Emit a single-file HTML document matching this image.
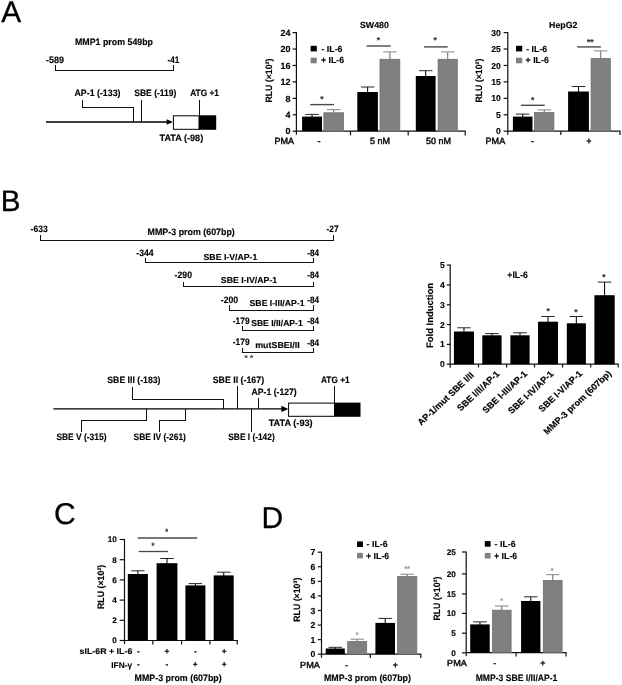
<!DOCTYPE html>
<html lang="en">
<head>
<meta charset="utf-8">
<title>Figure: IL-6 dependent MMP promoter activity</title>
<style>
html,body{margin:0;padding:0;background:#fff;}
body{width:622px;height:685px;overflow:hidden;}
svg{display:block;}
svg text{font-family:"Liberation Sans", Arial, Helvetica, sans-serif;}
</style>
</head>
<body>
<svg width="622" height="685" viewBox="0 0 622 685" text-rendering="geometricPrecision">
<rect x="0" y="0" width="622" height="685" fill="#ffffff"/>
<text x="1.3" y="22.3" font-size="29.8" fill="#000" stroke="#000" stroke-width="0.3">A</text>
<text x="0.8" y="210.9" font-size="29.6" fill="#000" stroke="#000" stroke-width="0.3">B</text>
<text x="53.9" y="524" font-size="30" fill="#000" stroke="#000" stroke-width="0.3">C</text>
<text x="261.4" y="527.7" font-size="30" fill="#000" stroke="#000" stroke-width="0.3">D</text>
<text x="75" y="44.5" font-size="9.3" font-weight="bold" stroke="#111" stroke-width="0.15" textLength="78" lengthAdjust="spacingAndGlyphs">MMP1 prom 549bp</text>
<text x="46" y="62.5" font-size="9.3" font-weight="bold" stroke="#111" stroke-width="0.15" textLength="18" lengthAdjust="spacingAndGlyphs">-589</text>
<text x="167.6" y="62.5" font-size="9.3" font-weight="bold" stroke="#111" stroke-width="0.15" textLength="11.8" lengthAdjust="spacingAndGlyphs">-41</text>
<polyline points="55.5,65.3 55.5,70 173.9,70 173.9,65.3" fill="none" stroke="#111" stroke-width="1" shape-rendering="crispEdges"/>
<text x="74.5" y="95.5" font-size="9.3" font-weight="bold" stroke="#111" stroke-width="0.15" textLength="46" lengthAdjust="spacingAndGlyphs">AP-1 (-133)</text>
<text x="134.3" y="95.5" font-size="9.3" font-weight="bold" stroke="#111" stroke-width="0.15" textLength="42.1" lengthAdjust="spacingAndGlyphs">SBE (-119)</text>
<text x="190.2" y="95.5" font-size="9.3" font-weight="bold" stroke="#111" stroke-width="0.15" textLength="28.8" lengthAdjust="spacingAndGlyphs">ATG +1</text>
<polyline points="82.5,99.5 82.5,107 133.5,107 133.5,122" fill="none" stroke="#111" stroke-width="1" shape-rendering="crispEdges"/>
<line x1="141" y1="99.5" x2="141" y2="122" stroke="#111" stroke-width="1" shape-rendering="crispEdges"/>
<line x1="199" y1="99.5" x2="199" y2="116" stroke="#111" stroke-width="1" shape-rendering="crispEdges"/>
<line x1="46" y1="122" x2="168" y2="122" stroke="#000" stroke-width="1.35"/>
<polygon points="166.6,119.2 172.9,122 166.6,124.8" fill="#000"/>
<rect x="173.4" y="115.8" width="25.6" height="13.5" fill="#fff" stroke="#000" stroke-width="1"/>
<rect x="199" y="115.3" width="17.2" height="14.5" fill="#000"/>
<text x="159.6" y="140.8" font-size="9.3" font-weight="bold" stroke="#111" stroke-width="0.15" textLength="43.6" lengthAdjust="spacingAndGlyphs">TATA (-98)</text>
<line x1="296.4" y1="32" x2="296.4" y2="134.8" stroke="#111" stroke-width="1.2"/>
<line x1="292.6" y1="131.2" x2="296.4" y2="131.2" stroke="#111" stroke-width="1.2"/>
<text x="290.6" y="134.42" font-size="9" font-weight="bold" stroke="#111" stroke-width="0.15" text-anchor="end">0</text>
<line x1="292.6" y1="114.77" x2="296.4" y2="114.77" stroke="#111" stroke-width="1.2"/>
<text x="290.6" y="117.99" font-size="9" font-weight="bold" stroke="#111" stroke-width="0.15" text-anchor="end">4</text>
<line x1="292.6" y1="98.33" x2="296.4" y2="98.33" stroke="#111" stroke-width="1.2"/>
<text x="290.6" y="101.56" font-size="9" font-weight="bold" stroke="#111" stroke-width="0.15" text-anchor="end">8</text>
<line x1="292.6" y1="81.9" x2="296.4" y2="81.9" stroke="#111" stroke-width="1.2"/>
<text x="290.6" y="85.12" font-size="9" font-weight="bold" stroke="#111" stroke-width="0.15" text-anchor="end">12</text>
<line x1="292.6" y1="65.47" x2="296.4" y2="65.47" stroke="#111" stroke-width="1.2"/>
<text x="290.6" y="68.69" font-size="9" font-weight="bold" stroke="#111" stroke-width="0.15" text-anchor="end">16</text>
<line x1="292.6" y1="49.03" x2="296.4" y2="49.03" stroke="#111" stroke-width="1.2"/>
<text x="290.6" y="52.26" font-size="9" font-weight="bold" stroke="#111" stroke-width="0.15" text-anchor="end">20</text>
<line x1="292.6" y1="32.6" x2="296.4" y2="32.6" stroke="#111" stroke-width="1.2"/>
<text x="290.6" y="35.82" font-size="9" font-weight="bold" stroke="#111" stroke-width="0.15" text-anchor="end">24</text>
<line x1="295.8" y1="131.2" x2="465.8" y2="131.2" stroke="#111" stroke-width="1.2"/>
<line x1="350.5" y1="131.2" x2="350.5" y2="135.4" stroke="#111" stroke-width="1.2"/>
<line x1="408.2" y1="131.2" x2="408.2" y2="135.4" stroke="#111" stroke-width="1.2"/>
<line x1="465.2" y1="131.2" x2="465.2" y2="135.4" stroke="#111" stroke-width="1.2"/>
<line x1="312.05" y1="114.4" x2="312.05" y2="117.1" stroke="#111" stroke-width="1.1"/>
<line x1="305.3" y1="114.4" x2="318.8" y2="114.4" stroke="#111" stroke-width="0.9"/>
<rect x="302.1" y="116.6" width="19.9" height="14.6" fill="#000"/>
<line x1="333.75" y1="109.6" x2="333.75" y2="112.9" stroke="#777" stroke-width="1.1"/>
<line x1="327" y1="109.6" x2="340.5" y2="109.6" stroke="#777" stroke-width="0.9"/>
<rect x="323.9" y="112.8" width="19.7" height="18.4" fill="#808080" stroke="#6e6e6e" stroke-width="0.8"/>
<line x1="367.6" y1="87" x2="367.6" y2="92.5" stroke="#111" stroke-width="1.1"/>
<line x1="360.85" y1="87" x2="374.35" y2="87" stroke="#111" stroke-width="0.9"/>
<rect x="357.3" y="92" width="20.6" height="39.2" fill="#000"/>
<line x1="389.9" y1="51.9" x2="389.9" y2="59.4" stroke="#777" stroke-width="1.1"/>
<line x1="383.15" y1="51.9" x2="396.65" y2="51.9" stroke="#777" stroke-width="0.9"/>
<rect x="380" y="59.3" width="19.8" height="71.9" fill="#808080" stroke="#6e6e6e" stroke-width="0.8"/>
<line x1="425.7" y1="70.7" x2="425.7" y2="76.5" stroke="#111" stroke-width="1.1"/>
<line x1="418.95" y1="70.7" x2="432.45" y2="70.7" stroke="#111" stroke-width="0.9"/>
<rect x="415.8" y="76" width="19.8" height="55.2" fill="#000"/>
<line x1="447.7" y1="51.9" x2="447.7" y2="59.4" stroke="#777" stroke-width="1.1"/>
<line x1="440.95" y1="51.9" x2="454.45" y2="51.9" stroke="#777" stroke-width="0.9"/>
<rect x="438.1" y="59.3" width="19.2" height="71.9" fill="#808080" stroke="#6e6e6e" stroke-width="0.8"/>
<line x1="310.2" y1="104.6" x2="334" y2="104.6" stroke="#4a4a4a" stroke-width="1.4"/>
<text x="322" y="102.06" font-size="8.5" font-weight="bold" stroke="#333" stroke-width="0.15" text-anchor="middle" fill="#333">*</text>
<line x1="366.5" y1="46" x2="390.6" y2="46" stroke="#4a4a4a" stroke-width="1.4"/>
<text x="378.4" y="42.66" font-size="8.5" font-weight="bold" stroke="#333" stroke-width="0.15" text-anchor="middle" fill="#333">*</text>
<line x1="423.9" y1="46.9" x2="447.7" y2="46.9" stroke="#4a4a4a" stroke-width="1.4"/>
<text x="435.1" y="42.86" font-size="8.5" font-weight="bold" stroke="#333" stroke-width="0.15" text-anchor="middle" fill="#333">*</text>
<text x="374.4" y="28.1" font-size="8.8" font-weight="bold" stroke="#111" stroke-width="0.15" text-anchor="middle">SW480</text>
<rect x="310.6" y="45.8" width="6.2" height="5.6" fill="#000"/>
<rect x="310.6" y="57.7" width="6.2" height="5.6" fill="#808080"/>
<text x="321.5" y="51.5" font-size="8.8" font-weight="bold" stroke="#111" stroke-width="0.15">- IL-6</text>
<text x="320.9" y="63.4" font-size="8.8" font-weight="bold" stroke="#111" stroke-width="0.15">+ IL-6</text>
<text x="272.1" y="102.6" font-size="9.3" font-weight="bold" stroke="#111" stroke-width="0.15" transform="rotate(-90 272.1 102.6)" textLength="44" lengthAdjust="spacingAndGlyphs">RLU (×10²)</text>
<text x="274.4" y="143.8" font-size="9" textLength="19.6" lengthAdjust="spacingAndGlyphs" stroke="#111" stroke-width="0.45">PMA</text>
<text x="319" y="143.8" font-size="9" text-anchor="middle" stroke="#111" stroke-width="0.45">-</text>
<text x="380" y="143.8" font-size="9" text-anchor="middle" stroke="#111" stroke-width="0.45">5 nM</text>
<text x="438.6" y="143.8" font-size="9" text-anchor="middle" stroke="#111" stroke-width="0.45">50 nM</text>
<line x1="507.8" y1="32" x2="507.8" y2="134.8" stroke="#111" stroke-width="1.2"/>
<line x1="503.6" y1="131.2" x2="507.8" y2="131.2" stroke="#111" stroke-width="1.2"/>
<text x="500.9" y="134.28" font-size="8.6" font-weight="bold" stroke="#111" stroke-width="0.15" text-anchor="end">0</text>
<line x1="503.6" y1="114.77" x2="507.8" y2="114.77" stroke="#111" stroke-width="1.2"/>
<text x="500.9" y="117.85" font-size="8.6" font-weight="bold" stroke="#111" stroke-width="0.15" text-anchor="end">5</text>
<line x1="503.6" y1="98.33" x2="507.8" y2="98.33" stroke="#111" stroke-width="1.2"/>
<text x="500.9" y="101.41" font-size="8.6" font-weight="bold" stroke="#111" stroke-width="0.15" text-anchor="end">10</text>
<line x1="503.6" y1="81.9" x2="507.8" y2="81.9" stroke="#111" stroke-width="1.2"/>
<text x="500.9" y="84.98" font-size="8.6" font-weight="bold" stroke="#111" stroke-width="0.15" text-anchor="end">15</text>
<line x1="503.6" y1="65.47" x2="507.8" y2="65.47" stroke="#111" stroke-width="1.2"/>
<text x="500.9" y="68.55" font-size="8.6" font-weight="bold" stroke="#111" stroke-width="0.15" text-anchor="end">20</text>
<line x1="503.6" y1="49.03" x2="507.8" y2="49.03" stroke="#111" stroke-width="1.2"/>
<text x="500.9" y="52.11" font-size="8.6" font-weight="bold" stroke="#111" stroke-width="0.15" text-anchor="end">25</text>
<line x1="503.6" y1="32.6" x2="507.8" y2="32.6" stroke="#111" stroke-width="1.2"/>
<text x="500.9" y="35.68" font-size="8.6" font-weight="bold" stroke="#111" stroke-width="0.15" text-anchor="end">30</text>
<line x1="507.2" y1="131.2" x2="620.6" y2="131.2" stroke="#111" stroke-width="1.2"/>
<line x1="560.8" y1="131.2" x2="560.8" y2="135" stroke="#111" stroke-width="1.2"/>
<line x1="620" y1="131.2" x2="620" y2="135" stroke="#111" stroke-width="1.2"/>
<line x1="522.7" y1="114.1" x2="522.7" y2="117.1" stroke="#111" stroke-width="1.1"/>
<line x1="515.95" y1="114.1" x2="529.45" y2="114.1" stroke="#111" stroke-width="0.9"/>
<rect x="512.9" y="116.6" width="19.6" height="14.6" fill="#000"/>
<line x1="544.25" y1="109.9" x2="544.25" y2="112.6" stroke="#777" stroke-width="1.1"/>
<line x1="537.5" y1="109.9" x2="551" y2="109.9" stroke="#777" stroke-width="0.9"/>
<rect x="534.6" y="112.5" width="19.3" height="18.7" fill="#808080" stroke="#6e6e6e" stroke-width="0.8"/>
<line x1="578.5" y1="86.5" x2="578.5" y2="92" stroke="#111" stroke-width="1.1"/>
<line x1="571.75" y1="86.5" x2="585.25" y2="86.5" stroke="#111" stroke-width="0.9"/>
<rect x="568.1" y="91.5" width="20.8" height="39.7" fill="#000"/>
<line x1="600.7" y1="50.9" x2="600.7" y2="58.7" stroke="#777" stroke-width="1.1"/>
<line x1="593.95" y1="50.9" x2="607.45" y2="50.9" stroke="#777" stroke-width="0.9"/>
<rect x="591.1" y="58.6" width="19.2" height="72.6" fill="#808080" stroke="#6e6e6e" stroke-width="0.8"/>
<line x1="520.9" y1="105.3" x2="544.8" y2="105.3" stroke="#4a4a4a" stroke-width="1.4"/>
<text x="532.6" y="102.76" font-size="8.5" font-weight="bold" stroke="#333" stroke-width="0.15" text-anchor="middle" fill="#333">*</text>
<line x1="577.1" y1="46.9" x2="600.9" y2="46.9" stroke="#4a4a4a" stroke-width="1.4"/>
<text x="590.2" y="44.76" font-size="8.5" font-weight="bold" stroke="#333" stroke-width="0.15" text-anchor="middle" fill="#333">**</text>
<text x="563.3" y="28.1" font-size="8.8" font-weight="bold" stroke="#111" stroke-width="0.15" text-anchor="middle">HepG2</text>
<rect x="516" y="45.8" width="6.2" height="5.6" fill="#000"/>
<rect x="516" y="57.7" width="6.2" height="5.6" fill="#808080"/>
<text x="526.2" y="51.5" font-size="8.8" font-weight="bold" stroke="#111" stroke-width="0.15">- IL-6</text>
<text x="525.6" y="63.4" font-size="8.8" font-weight="bold" stroke="#111" stroke-width="0.15">+ IL-6</text>
<text x="482.4" y="102.6" font-size="9.3" font-weight="bold" stroke="#111" stroke-width="0.15" transform="rotate(-90 482.4 102.6)" textLength="44" lengthAdjust="spacingAndGlyphs">RLU (×10²)</text>
<text x="485.6" y="143.8" font-size="9" textLength="19.6" lengthAdjust="spacingAndGlyphs" stroke="#111" stroke-width="0.45">PMA</text>
<text x="532.5" y="143.8" font-size="9" text-anchor="middle" stroke="#111" stroke-width="0.45">-</text>
<text x="589" y="143.8" font-size="9" text-anchor="middle" stroke="#111" stroke-width="0.45">+</text>
<text x="30.6" y="232" font-size="9.3" font-weight="bold" stroke="#111" stroke-width="0.15" textLength="17.2" lengthAdjust="spacingAndGlyphs">-633</text>
<text x="147.6" y="235.1" font-size="9.3" font-weight="bold" stroke="#111" stroke-width="0.15" textLength="87.2" lengthAdjust="spacingAndGlyphs">MMP-3 prom (607bp)</text>
<text x="326.6" y="232" font-size="9.3" font-weight="bold" stroke="#111" stroke-width="0.15" textLength="12" lengthAdjust="spacingAndGlyphs">-27</text>
<polyline points="40.6,235.1 40.6,240.1 333.3,240.1 333.3,235.1" fill="none" stroke="#111" stroke-width="1" shape-rendering="crispEdges"/>
<text x="136.3" y="255.8" font-size="9.3" font-weight="bold" stroke="#111" stroke-width="0.15" textLength="17.4" lengthAdjust="spacingAndGlyphs">-344</text>
<text x="203.5" y="259.7" font-size="8.6" font-weight="bold" stroke="#111" stroke-width="0.15" textLength="53.9" lengthAdjust="spacingAndGlyphs">SBE I-V/AP-1</text>
<text x="307.3" y="255.8" font-size="9.3" font-weight="bold" stroke="#111" stroke-width="0.15" textLength="11.8" lengthAdjust="spacingAndGlyphs">-84</text>
<polyline points="145.2,257.9 145.2,262.7 313.5,262.7 313.5,257.9" fill="none" stroke="#111" stroke-width="1" shape-rendering="crispEdges"/>
<text x="174.6" y="278.4" font-size="9.3" font-weight="bold" stroke="#111" stroke-width="0.15" textLength="17.4" lengthAdjust="spacingAndGlyphs">-290</text>
<text x="220.8" y="282.8" font-size="8.6" font-weight="bold" stroke="#111" stroke-width="0.15" textLength="56.4" lengthAdjust="spacingAndGlyphs">SBE I-IV/AP-1</text>
<text x="307.3" y="278.4" font-size="9.3" font-weight="bold" stroke="#111" stroke-width="0.15" textLength="11.8" lengthAdjust="spacingAndGlyphs">-84</text>
<polyline points="183.2,281.5 183.2,286.5 313.5,286.5 313.5,281.5" fill="none" stroke="#111" stroke-width="1" shape-rendering="crispEdges"/>
<text x="220.8" y="302.8" font-size="9.3" font-weight="bold" stroke="#111" stroke-width="0.15" textLength="17.2" lengthAdjust="spacingAndGlyphs">-200</text>
<text x="249.6" y="306.1" font-size="8.6" font-weight="bold" stroke="#111" stroke-width="0.15" textLength="54.9" lengthAdjust="spacingAndGlyphs">SBE I-III/AP-1</text>
<text x="307.3" y="302.8" font-size="9.3" font-weight="bold" stroke="#111" stroke-width="0.15" textLength="11.8" lengthAdjust="spacingAndGlyphs">-84</text>
<polyline points="229,305.3 229,310.4 313.5,310.4 313.5,305.3" fill="none" stroke="#111" stroke-width="1" shape-rendering="crispEdges"/>
<text x="232.8" y="323.8" font-size="9.3" font-weight="bold" stroke="#111" stroke-width="0.15" textLength="16.8" lengthAdjust="spacingAndGlyphs">-179</text>
<text x="251.2" y="325.9" font-size="8.6" font-weight="bold" stroke="#111" stroke-width="0.15" textLength="51.5" lengthAdjust="spacingAndGlyphs">SBE I/II/AP-1</text>
<text x="307.3" y="324.2" font-size="9.3" font-weight="bold" stroke="#111" stroke-width="0.15" textLength="11.8" lengthAdjust="spacingAndGlyphs">-84</text>
<polyline points="242.1,326.2 242.1,330.4 313.5,330.4 313.5,326.2" fill="none" stroke="#111" stroke-width="1" shape-rendering="crispEdges"/>
<text x="232.8" y="345.1" font-size="9.3" font-weight="bold" stroke="#111" stroke-width="0.15" textLength="16.8" lengthAdjust="spacingAndGlyphs">-179</text>
<text x="255.2" y="348" font-size="8.6" font-weight="bold" stroke="#111" stroke-width="0.15" textLength="44.5" lengthAdjust="spacingAndGlyphs">mutSBEI/II</text>
<text x="307.3" y="345.5" font-size="9.3" font-weight="bold" stroke="#111" stroke-width="0.15" textLength="11.8" lengthAdjust="spacingAndGlyphs">-84</text>
<polyline points="242.1,347.5 242.1,352.5 313.5,352.5 313.5,347.5" fill="none" stroke="#111" stroke-width="1" shape-rendering="crispEdges"/>
<text x="244.6" y="360.4" font-size="7" font-weight="bold" stroke="#444" stroke-width="0.15" fill="#444" textLength="8.6" lengthAdjust="spacingAndGlyphs">* *</text>
<text x="107.3" y="383.2" font-size="9.3" font-weight="bold" stroke="#111" stroke-width="0.15" textLength="53.2" lengthAdjust="spacingAndGlyphs">SBE III (-183)</text>
<text x="212.7" y="383.2" font-size="9.3" font-weight="bold" stroke="#111" stroke-width="0.15" textLength="51.4" lengthAdjust="spacingAndGlyphs">SBE II (-167)</text>
<text x="251.6" y="395.1" font-size="9.3" font-weight="bold" stroke="#111" stroke-width="0.15" textLength="45.1" lengthAdjust="spacingAndGlyphs">AP-1 (-127)</text>
<text x="321" y="383.2" font-size="9.3" font-weight="bold" stroke="#111" stroke-width="0.15" textLength="28.6" lengthAdjust="spacingAndGlyphs">ATG +1</text>
<polyline points="132.9,387 132.9,399.6 223.5,399.6 223.5,408.9" fill="none" stroke="#111" stroke-width="1" shape-rendering="crispEdges"/>
<line x1="237.8" y1="385.5" x2="237.8" y2="408.9" stroke="#111" stroke-width="1" shape-rendering="crispEdges"/>
<line x1="258.4" y1="397.6" x2="258.4" y2="408.9" stroke="#111" stroke-width="1" shape-rendering="crispEdges"/>
<line x1="334.5" y1="385.5" x2="334.5" y2="403" stroke="#111" stroke-width="1" shape-rendering="crispEdges"/>
<line x1="53.4" y1="408.9" x2="283" y2="408.9" stroke="#000" stroke-width="1.35"/>
<polygon points="281.4,405.8 288.3,408.9 281.4,412" fill="#000"/>
<rect x="288.6" y="403.1" width="45.9" height="13.2" fill="#fff" stroke="#000" stroke-width="1"/>
<rect x="334.5" y="402.6" width="26" height="14.2" fill="#000"/>
<polyline points="81.5,431.5 81.5,420.2 146.2,420.2 146.2,408.9" fill="none" stroke="#111" stroke-width="1" shape-rendering="crispEdges"/>
<polyline points="159.3,431.5 159.3,420.2 185.1,420.2 185.1,408.9" fill="none" stroke="#111" stroke-width="1" shape-rendering="crispEdges"/>
<line x1="251.1" y1="408.9" x2="251.1" y2="431.5" stroke="#111" stroke-width="1" shape-rendering="crispEdges"/>
<text x="56.4" y="439.8" font-size="9.3" font-weight="bold" stroke="#111" stroke-width="0.15" textLength="50.1" lengthAdjust="spacingAndGlyphs">SBE V (-315)</text>
<text x="133.6" y="439.8" font-size="9.3" font-weight="bold" stroke="#111" stroke-width="0.15" textLength="52.3" lengthAdjust="spacingAndGlyphs">SBE IV (-261)</text>
<text x="228.3" y="439.8" font-size="9.3" font-weight="bold" stroke="#111" stroke-width="0.15" textLength="46.4" lengthAdjust="spacingAndGlyphs">SBE I (-142)</text>
<text x="268.7" y="425.7" font-size="9.3" font-weight="bold" stroke="#111" stroke-width="0.15" textLength="44" lengthAdjust="spacingAndGlyphs">TATA (-93)</text>
<line x1="450.2" y1="264.5" x2="450.2" y2="367.8" stroke="#111" stroke-width="1.2"/>
<line x1="446.8" y1="364.2" x2="450.2" y2="364.2" stroke="#111" stroke-width="1.2"/>
<text x="444.7" y="367.28" font-size="8.6" font-weight="bold" stroke="#111" stroke-width="0.15" text-anchor="end">0</text>
<line x1="446.8" y1="344.38" x2="450.2" y2="344.38" stroke="#111" stroke-width="1.2"/>
<text x="444.7" y="347.46" font-size="8.6" font-weight="bold" stroke="#111" stroke-width="0.15" text-anchor="end">1</text>
<line x1="446.8" y1="324.56" x2="450.2" y2="324.56" stroke="#111" stroke-width="1.2"/>
<text x="444.7" y="327.64" font-size="8.6" font-weight="bold" stroke="#111" stroke-width="0.15" text-anchor="end">2</text>
<line x1="446.8" y1="304.74" x2="450.2" y2="304.74" stroke="#111" stroke-width="1.2"/>
<text x="444.7" y="307.82" font-size="8.6" font-weight="bold" stroke="#111" stroke-width="0.15" text-anchor="end">3</text>
<line x1="446.8" y1="284.92" x2="450.2" y2="284.92" stroke="#111" stroke-width="1.2"/>
<text x="444.7" y="288" font-size="8.6" font-weight="bold" stroke="#111" stroke-width="0.15" text-anchor="end">4</text>
<line x1="446.8" y1="265.1" x2="450.2" y2="265.1" stroke="#111" stroke-width="1.2"/>
<text x="444.7" y="268.18" font-size="8.6" font-weight="bold" stroke="#111" stroke-width="0.15" text-anchor="end">5</text>
<line x1="449.6" y1="364.2" x2="618.8" y2="364.2" stroke="#111" stroke-width="1.2"/>
<line x1="478.5" y1="364.2" x2="478.5" y2="367.5" stroke="#111" stroke-width="1.2"/>
<line x1="506.6" y1="364.2" x2="506.6" y2="367.5" stroke="#111" stroke-width="1.2"/>
<line x1="534.5" y1="364.2" x2="534.5" y2="367.5" stroke="#111" stroke-width="1.2"/>
<line x1="562.6" y1="364.2" x2="562.6" y2="367.5" stroke="#111" stroke-width="1.2"/>
<line x1="590.7" y1="364.2" x2="590.7" y2="367.5" stroke="#111" stroke-width="1.2"/>
<line x1="618.2" y1="364.2" x2="618.2" y2="367.5" stroke="#111" stroke-width="1.2"/>
<line x1="463.95" y1="327.8" x2="463.95" y2="332" stroke="#111" stroke-width="1.1"/>
<line x1="457.2" y1="327.8" x2="470.7" y2="327.8" stroke="#111" stroke-width="0.9"/>
<rect x="453.9" y="331.5" width="20.1" height="32.7" fill="#000"/>
<line x1="491.95" y1="333.6" x2="491.95" y2="335.8" stroke="#111" stroke-width="1.1"/>
<line x1="485.2" y1="333.6" x2="498.7" y2="333.6" stroke="#111" stroke-width="0.9"/>
<rect x="482.3" y="335.3" width="19.3" height="28.9" fill="#000"/>
<line x1="520" y1="332.8" x2="520" y2="335.8" stroke="#111" stroke-width="1.1"/>
<line x1="513.25" y1="332.8" x2="526.75" y2="332.8" stroke="#111" stroke-width="0.9"/>
<rect x="510.4" y="335.3" width="19.2" height="28.9" fill="#000"/>
<line x1="548" y1="316.5" x2="548" y2="322.2" stroke="#111" stroke-width="1.1"/>
<line x1="541.25" y1="316.5" x2="554.75" y2="316.5" stroke="#111" stroke-width="0.9"/>
<rect x="538" y="321.7" width="20" height="42.5" fill="#000"/>
<line x1="576.35" y1="316.5" x2="576.35" y2="323.8" stroke="#111" stroke-width="1.1"/>
<line x1="569.6" y1="316.5" x2="583.1" y2="316.5" stroke="#111" stroke-width="0.9"/>
<rect x="566.8" y="323.3" width="19.1" height="40.9" fill="#000"/>
<line x1="604.55" y1="282.1" x2="604.55" y2="295.7" stroke="#111" stroke-width="1.1"/>
<line x1="597.8" y1="282.1" x2="611.3" y2="282.1" stroke="#111" stroke-width="0.9"/>
<rect x="594.4" y="295.2" width="20.3" height="69" fill="#000"/>
<text x="548.2" y="314.16" font-size="8.5" font-weight="bold" stroke="#333" stroke-width="0.15" text-anchor="middle" fill="#333">*</text>
<text x="575.8" y="314.76" font-size="8.5" font-weight="bold" stroke="#333" stroke-width="0.15" text-anchor="middle" fill="#333">*</text>
<text x="604" y="280.36" font-size="8.5" font-weight="bold" stroke="#333" stroke-width="0.15" text-anchor="middle" fill="#333">*</text>
<text x="507.3" y="278.1" font-size="9.3" font-weight="bold" stroke="#111" stroke-width="0.15" textLength="20.6" lengthAdjust="spacingAndGlyphs">+IL-6</text>
<text x="433.2" y="347.9" font-size="9.4" font-weight="bold" stroke="#111" stroke-width="0.15" transform="rotate(-90 433.2 347.9)" textLength="64.8" lengthAdjust="spacingAndGlyphs">Fold Induction</text>
<text font-size="9.3" font-weight="bold" text-anchor="end" stroke="#111" stroke-width="0.22" transform="translate(474.6 375.7) scale(1 0.94) rotate(-45)">AP-1/mut SBE I/II</text>
<text font-size="9.3" font-weight="bold" text-anchor="end" stroke="#111" stroke-width="0.22" transform="translate(500.2 374.5) scale(1 0.94) rotate(-45)">SBE I/II/AP-1</text>
<text font-size="9.3" font-weight="bold" text-anchor="end" stroke="#111" stroke-width="0.22" transform="translate(527.8 374.5) scale(1 0.94) rotate(-45)">SBE I-III/AP-1</text>
<text font-size="9.3" font-weight="bold" text-anchor="end" stroke="#111" stroke-width="0.22" transform="translate(554.2 374.5) scale(1 0.94) rotate(-45)">SBE I-IV/AP-1</text>
<text font-size="9.3" font-weight="bold" text-anchor="end" stroke="#111" stroke-width="0.22" transform="translate(582.8 374.3) scale(1 0.94) rotate(-45)">SBE I-V/AP-1</text>
<text font-size="9.3" font-weight="bold" text-anchor="end" stroke="#111" stroke-width="0.22" transform="translate(612 374.1) scale(1 0.94) rotate(-45)">MMP-3 prom (607bp)</text>
<line x1="124.5" y1="538.9" x2="124.5" y2="644.1" stroke="#111" stroke-width="1.2"/>
<line x1="119.7" y1="640.5" x2="124.5" y2="640.5" stroke="#111" stroke-width="1.2"/>
<text x="116.8" y="643.44" font-size="8.2" font-weight="bold" stroke="#111" stroke-width="0.15" text-anchor="end">0</text>
<line x1="119.7" y1="620.3" x2="124.5" y2="620.3" stroke="#111" stroke-width="1.2"/>
<text x="116.8" y="623.24" font-size="8.2" font-weight="bold" stroke="#111" stroke-width="0.15" text-anchor="end">2</text>
<line x1="119.7" y1="600.1" x2="124.5" y2="600.1" stroke="#111" stroke-width="1.2"/>
<text x="116.8" y="603.04" font-size="8.2" font-weight="bold" stroke="#111" stroke-width="0.15" text-anchor="end">4</text>
<line x1="119.7" y1="579.9" x2="124.5" y2="579.9" stroke="#111" stroke-width="1.2"/>
<text x="116.8" y="582.84" font-size="8.2" font-weight="bold" stroke="#111" stroke-width="0.15" text-anchor="end">6</text>
<line x1="119.7" y1="559.7" x2="124.5" y2="559.7" stroke="#111" stroke-width="1.2"/>
<text x="116.8" y="562.64" font-size="8.2" font-weight="bold" stroke="#111" stroke-width="0.15" text-anchor="end">8</text>
<line x1="119.7" y1="539.5" x2="124.5" y2="539.5" stroke="#111" stroke-width="1.2"/>
<text x="116.8" y="542.44" font-size="8.2" font-weight="bold" stroke="#111" stroke-width="0.15" text-anchor="end">10</text>
<line x1="123.9" y1="640.5" x2="237.8" y2="640.5" stroke="#111" stroke-width="1.2"/>
<line x1="152.8" y1="640.5" x2="152.8" y2="644.4" stroke="#111" stroke-width="1.2"/>
<line x1="181.6" y1="640.5" x2="181.6" y2="644.4" stroke="#111" stroke-width="1.2"/>
<line x1="209.9" y1="640.5" x2="209.9" y2="644.4" stroke="#111" stroke-width="1.2"/>
<line x1="237.2" y1="640.5" x2="237.2" y2="644.4" stroke="#111" stroke-width="1.2"/>
<line x1="137.85" y1="570.8" x2="137.85" y2="574.5" stroke="#111" stroke-width="1.1"/>
<line x1="131.1" y1="570.8" x2="144.6" y2="570.8" stroke="#111" stroke-width="0.9"/>
<rect x="127.8" y="574" width="20.1" height="66.5" fill="#000"/>
<line x1="167" y1="558.5" x2="167" y2="563.7" stroke="#111" stroke-width="1.1"/>
<line x1="160.25" y1="558.5" x2="173.75" y2="558.5" stroke="#111" stroke-width="0.9"/>
<rect x="156.6" y="563.2" width="20.8" height="77.3" fill="#000"/>
<line x1="195.4" y1="583.6" x2="195.4" y2="585.9" stroke="#111" stroke-width="1.1"/>
<line x1="188.65" y1="583.6" x2="202.15" y2="583.6" stroke="#111" stroke-width="0.9"/>
<rect x="185.4" y="585.4" width="20" height="55.1" fill="#000"/>
<line x1="223.7" y1="572.2" x2="223.7" y2="575.9" stroke="#111" stroke-width="1.1"/>
<line x1="216.95" y1="572.2" x2="230.45" y2="572.2" stroke="#111" stroke-width="0.9"/>
<rect x="213.7" y="575.4" width="20" height="65.1" fill="#000"/>
<line x1="137.7" y1="538" x2="197.1" y2="538" stroke="#4a4a4a" stroke-width="1.3"/>
<text x="166.7" y="533.8" font-size="7.5" font-weight="bold" stroke="#333" stroke-width="0.15" text-anchor="middle" fill="#333">*</text>
<line x1="138.6" y1="551.5" x2="167.9" y2="551.5" stroke="#4a4a4a" stroke-width="1.3"/>
<text x="152.9" y="548.1" font-size="7.5" font-weight="bold" stroke="#333" stroke-width="0.15" text-anchor="middle" fill="#333">*</text>
<text x="103.7" y="609.1" font-size="9.3" font-weight="bold" stroke="#111" stroke-width="0.15" transform="rotate(-90 103.7 609.1)" textLength="44.4" lengthAdjust="spacingAndGlyphs">RLU (×10²)</text>
<text x="79.6" y="653.8" font-size="8.4" font-weight="bold" stroke="#111" stroke-width="0.15" textLength="52.7" lengthAdjust="spacingAndGlyphs">sIL-6R + IL-6</text>
<text x="111.3" y="667.5" font-size="8.4" font-weight="bold" stroke="#111" stroke-width="0.15" textLength="20.8" lengthAdjust="spacingAndGlyphs">IFN-γ</text>
<text x="138.5" y="654" font-size="8.4" font-weight="bold" stroke="#111" stroke-width="0.15" text-anchor="middle">-</text>
<text x="138.5" y="667.4" font-size="8.4" font-weight="bold" stroke="#111" stroke-width="0.15" text-anchor="middle">-</text>
<text x="167" y="654" font-size="8.4" font-weight="bold" stroke="#111" stroke-width="0.15" text-anchor="middle">+</text>
<text x="167" y="667.4" font-size="8.4" font-weight="bold" stroke="#111" stroke-width="0.15" text-anchor="middle">-</text>
<text x="195.3" y="654" font-size="8.4" font-weight="bold" stroke="#111" stroke-width="0.15" text-anchor="middle">-</text>
<text x="195.3" y="667.4" font-size="8.4" font-weight="bold" stroke="#111" stroke-width="0.15" text-anchor="middle">+</text>
<text x="224.2" y="654" font-size="8.4" font-weight="bold" stroke="#111" stroke-width="0.15" text-anchor="middle">+</text>
<text x="224.2" y="667.4" font-size="8.4" font-weight="bold" stroke="#111" stroke-width="0.15" text-anchor="middle">+</text>
<text x="134.6" y="680.8" font-size="9.3" font-weight="bold" stroke="#111" stroke-width="0.15" textLength="87.1" lengthAdjust="spacingAndGlyphs">MMP-3 prom (607bp)</text>
<line x1="321.5" y1="551.6" x2="321.5" y2="657.8" stroke="#111" stroke-width="1.2"/>
<line x1="317.8" y1="654.2" x2="321.5" y2="654.2" stroke="#111" stroke-width="1.2"/>
<text x="315.4" y="657.31" font-size="8.7" font-weight="bold" stroke="#111" stroke-width="0.15" text-anchor="end">0</text>
<line x1="317.8" y1="639.63" x2="321.5" y2="639.63" stroke="#111" stroke-width="1.2"/>
<text x="315.4" y="642.74" font-size="8.7" font-weight="bold" stroke="#111" stroke-width="0.15" text-anchor="end">1</text>
<line x1="317.8" y1="625.06" x2="321.5" y2="625.06" stroke="#111" stroke-width="1.2"/>
<text x="315.4" y="628.17" font-size="8.7" font-weight="bold" stroke="#111" stroke-width="0.15" text-anchor="end">2</text>
<line x1="317.8" y1="610.49" x2="321.5" y2="610.49" stroke="#111" stroke-width="1.2"/>
<text x="315.4" y="613.6" font-size="8.7" font-weight="bold" stroke="#111" stroke-width="0.15" text-anchor="end">3</text>
<line x1="317.8" y1="595.91" x2="321.5" y2="595.91" stroke="#111" stroke-width="1.2"/>
<text x="315.4" y="599.03" font-size="8.7" font-weight="bold" stroke="#111" stroke-width="0.15" text-anchor="end">4</text>
<line x1="317.8" y1="581.34" x2="321.5" y2="581.34" stroke="#111" stroke-width="1.2"/>
<text x="315.4" y="584.46" font-size="8.7" font-weight="bold" stroke="#111" stroke-width="0.15" text-anchor="end">5</text>
<line x1="317.8" y1="566.77" x2="321.5" y2="566.77" stroke="#111" stroke-width="1.2"/>
<text x="315.4" y="569.89" font-size="8.7" font-weight="bold" stroke="#111" stroke-width="0.15" text-anchor="end">6</text>
<line x1="317.8" y1="552.2" x2="321.5" y2="552.2" stroke="#111" stroke-width="1.2"/>
<text x="315.4" y="555.31" font-size="8.7" font-weight="bold" stroke="#111" stroke-width="0.15" text-anchor="end">7</text>
<line x1="320.9" y1="654.2" x2="421.4" y2="654.2" stroke="#111" stroke-width="1.2"/>
<line x1="370.3" y1="654.2" x2="370.3" y2="658.1" stroke="#111" stroke-width="1.2"/>
<line x1="420.8" y1="654.2" x2="420.8" y2="658.1" stroke="#111" stroke-width="1.2"/>
<line x1="335.25" y1="647.3" x2="335.25" y2="649" stroke="#111" stroke-width="1.1"/>
<line x1="328.5" y1="647.3" x2="342" y2="647.3" stroke="#111" stroke-width="0.9"/>
<rect x="325.7" y="648.5" width="19.1" height="5.7" fill="#000"/>
<line x1="357.2" y1="639.2" x2="357.2" y2="641.7" stroke="#777" stroke-width="1.1"/>
<line x1="350.45" y1="639.2" x2="363.95" y2="639.2" stroke="#777" stroke-width="0.9"/>
<rect x="347.7" y="641.6" width="19" height="12.6" fill="#808080" stroke="#6e6e6e" stroke-width="0.8"/>
<line x1="385.2" y1="618.4" x2="385.2" y2="623.4" stroke="#111" stroke-width="1.1"/>
<line x1="378.45" y1="618.4" x2="391.95" y2="618.4" stroke="#111" stroke-width="0.9"/>
<rect x="375.4" y="622.9" width="19.6" height="31.3" fill="#000"/>
<line x1="407.15" y1="574.2" x2="407.15" y2="576.7" stroke="#777" stroke-width="1.1"/>
<line x1="400.4" y1="574.2" x2="413.9" y2="574.2" stroke="#777" stroke-width="0.9"/>
<rect x="397.5" y="576.6" width="19.3" height="77.6" fill="#808080" stroke="#6e6e6e" stroke-width="0.8"/>
<text x="357.1" y="637.42" font-size="7" font-weight="bold" stroke="#999" stroke-width="0.15" text-anchor="middle" fill="#999">*</text>
<text x="407.2" y="571.32" font-size="7" font-weight="bold" stroke="#999" stroke-width="0.15" text-anchor="middle" fill="#999">**</text>
<rect x="357.1" y="541.4" width="5.8" height="5.6" fill="#000"/>
<rect x="357.1" y="552.8" width="5.8" height="5.6" fill="#808080"/>
<text x="366.6" y="547.1" font-size="8.8" font-weight="bold" stroke="#111" stroke-width="0.15">- IL-6</text>
<text x="366" y="558.5" font-size="8.8" font-weight="bold" stroke="#111" stroke-width="0.15">+ IL-6</text>
<text x="300.4" y="621.7" font-size="9.3" font-weight="bold" stroke="#111" stroke-width="0.15" transform="rotate(-90 300.4 621.7)" textLength="44" lengthAdjust="spacingAndGlyphs">RLU (×10³)</text>
<text x="300" y="667.5" font-size="8.8" textLength="20" lengthAdjust="spacingAndGlyphs" stroke="#111" stroke-width="0.45">PMA</text>
<text x="346.5" y="667.5" font-size="8.8" font-weight="bold" stroke="#111" stroke-width="0.15" text-anchor="middle">-</text>
<text x="395.4" y="667.5" font-size="8.8" text-anchor="middle" stroke="#111" stroke-width="0.45">+</text>
<text x="323.9" y="681.4" font-size="9.3" font-weight="bold" stroke="#111" stroke-width="0.15" textLength="87" lengthAdjust="spacingAndGlyphs">MMP-3 prom (607bp)</text>
<line x1="466.2" y1="551.4" x2="466.2" y2="656.3" stroke="#111" stroke-width="1.2"/>
<line x1="462" y1="652.9" x2="466.2" y2="652.9" stroke="#111" stroke-width="1.2"/>
<text x="455.8" y="655.84" font-size="8.2" font-weight="bold" stroke="#111" stroke-width="0.15" text-anchor="end">0</text>
<line x1="462" y1="633.2" x2="466.2" y2="633.2" stroke="#111" stroke-width="1.2"/>
<text x="455.8" y="636.14" font-size="8.2" font-weight="bold" stroke="#111" stroke-width="0.15" text-anchor="end">5</text>
<line x1="462" y1="613.4" x2="466.2" y2="613.4" stroke="#111" stroke-width="1.2"/>
<text x="455.8" y="616.34" font-size="8.2" font-weight="bold" stroke="#111" stroke-width="0.15" text-anchor="end">10</text>
<line x1="462" y1="593.9" x2="466.2" y2="593.9" stroke="#111" stroke-width="1.2"/>
<text x="455.8" y="596.84" font-size="8.2" font-weight="bold" stroke="#111" stroke-width="0.15" text-anchor="end">15</text>
<line x1="462" y1="573.9" x2="466.2" y2="573.9" stroke="#111" stroke-width="1.2"/>
<text x="455.8" y="576.84" font-size="8.2" font-weight="bold" stroke="#111" stroke-width="0.15" text-anchor="end">20</text>
<line x1="462" y1="552" x2="466.2" y2="552" stroke="#111" stroke-width="1.2"/>
<text x="455.8" y="554.94" font-size="8.2" font-weight="bold" stroke="#111" stroke-width="0.15" text-anchor="end">25</text>
<line x1="465.6" y1="652.7" x2="566.6" y2="652.7" stroke="#111" stroke-width="1.2"/>
<line x1="516.1" y1="652.7" x2="516.1" y2="656.6" stroke="#111" stroke-width="1.2"/>
<line x1="566" y1="652.7" x2="566" y2="656.6" stroke="#111" stroke-width="1.2"/>
<line x1="479.95" y1="621.9" x2="479.95" y2="624.9" stroke="#111" stroke-width="1.1"/>
<line x1="473.2" y1="621.9" x2="486.7" y2="621.9" stroke="#111" stroke-width="0.9"/>
<rect x="470.2" y="624.4" width="19.5" height="28.3" fill="#000"/>
<line x1="501.75" y1="606" x2="501.75" y2="610.3" stroke="#777" stroke-width="1.1"/>
<line x1="495" y1="606" x2="508.5" y2="606" stroke="#777" stroke-width="0.9"/>
<rect x="492.4" y="610.2" width="18.7" height="42.5" fill="#808080" stroke="#6e6e6e" stroke-width="0.8"/>
<line x1="530.75" y1="596.8" x2="530.75" y2="601.5" stroke="#111" stroke-width="1.1"/>
<line x1="524" y1="596.8" x2="537.5" y2="596.8" stroke="#111" stroke-width="0.9"/>
<rect x="521.1" y="601" width="19.3" height="51.7" fill="#000"/>
<line x1="552.7" y1="574.7" x2="552.7" y2="580.5" stroke="#777" stroke-width="1.1"/>
<line x1="545.95" y1="574.7" x2="559.45" y2="574.7" stroke="#777" stroke-width="0.9"/>
<rect x="543.3" y="580.4" width="18.8" height="72.3" fill="#808080" stroke="#6e6e6e" stroke-width="0.8"/>
<text x="501.5" y="603.22" font-size="7" font-weight="bold" stroke="#999" stroke-width="0.15" text-anchor="middle" fill="#999">*</text>
<text x="552.2" y="573.12" font-size="7" font-weight="bold" stroke="#999" stroke-width="0.15" text-anchor="middle" fill="#999">*</text>
<rect x="484.8" y="541.1" width="5.8" height="5.6" fill="#000"/>
<rect x="484.8" y="552.9" width="5.8" height="5.6" fill="#808080"/>
<text x="494.6" y="546.8" font-size="8.8" font-weight="bold" stroke="#111" stroke-width="0.15">- IL-6</text>
<text x="494" y="558.6" font-size="8.8" font-weight="bold" stroke="#111" stroke-width="0.15">+ IL-6</text>
<text x="439.8" y="620.6" font-size="9.3" font-weight="bold" stroke="#111" stroke-width="0.15" transform="rotate(-90 439.8 620.6)" textLength="44" lengthAdjust="spacingAndGlyphs">RLU (×10²)</text>
<text x="447.1" y="666.2" font-size="8.8" textLength="19.8" lengthAdjust="spacingAndGlyphs" stroke="#111" stroke-width="0.45">PMA</text>
<text x="494.7" y="666.2" font-size="8.8" font-weight="bold" stroke="#111" stroke-width="0.15" text-anchor="middle">-</text>
<text x="542.9" y="666.2" font-size="8.8" text-anchor="middle" stroke="#111" stroke-width="0.45">+</text>
<text x="475.7" y="681.4" font-size="9.3" font-weight="bold" stroke="#111" stroke-width="0.15" textLength="81.7" lengthAdjust="spacingAndGlyphs">MMP-3 SBE I/II/AP-1</text>
</svg>
</body>
</html>
